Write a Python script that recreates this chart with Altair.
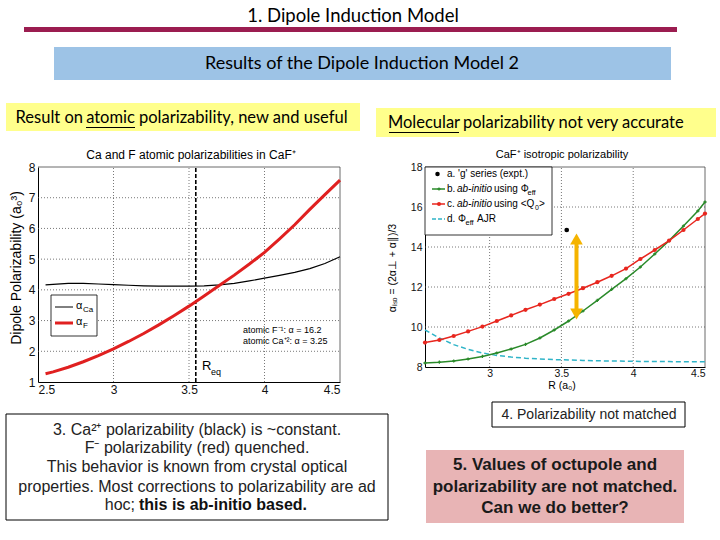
import altair as alt
import pandas as pd

# ---------------- data ----------------
R_LEFT = [2.55, 2.6, 2.7, 2.8, 2.9, 3.0, 3.1, 3.2, 3.3, 3.4, 3.5, 3.6, 3.7, 3.8, 3.9, 4.0, 4.1, 4.2, 4.3, 4.4, 4.5]
ALPHA_CA = [4.16, 4.18, 4.21, 4.21, 4.19, 4.17, 4.15, 4.13, 4.12, 4.12, 4.12, 4.13, 4.16, 4.21, 4.29, 4.38, 4.47, 4.57, 4.69, 4.86, 5.08]
ALPHA_F = [1.27, 1.33, 1.48, 1.66, 1.86, 2.08, 2.32, 2.58, 2.86, 3.16, 3.47, 3.8, 4.14, 4.48, 4.84, 5.22, 5.66, 6.12, 6.62, 7.1, 7.57]

R_RIGHT = [2.55, 2.65, 2.75, 2.85, 2.95, 3.05, 3.15, 3.25, 3.35, 3.45, 3.55, 3.65, 3.75, 3.85, 3.95, 4.05, 4.15, 4.25, 4.35, 4.45, 4.5]
ISO_AB_PHI = [8.2, 8.24, 8.3, 8.4, 8.53, 8.7, 8.9, 9.13, 9.45, 9.85, 10.3, 10.8, 11.33, 11.88, 12.42, 13.0, 13.65, 14.32, 15.05, 15.8, 16.25]
ISO_AB_Q0 = [9.22, 9.35, 9.55, 9.78, 10.02, 10.3, 10.58, 10.86, 11.12, 11.4, 11.66, 11.94, 12.24, 12.56, 12.92, 13.4, 13.85, 14.32, 14.85, 15.4, 15.67]
ISO_PHI_AJR = [9.85, 9.45, 9.12, 8.88, 8.7, 8.58, 8.5, 8.44, 8.4, 8.37, 8.35, 8.33, 8.31, 8.3, 8.29, 8.28, 8.27, 8.27, 8.26, 8.26, 8.26]
EXPT_R = [3.537]
EXPT_ISO = [14.85]

L_XTICKS = [2.5, 3, 3.5, 4, 4.5]
L_YTICKS = [1, 2, 3, 4, 5, 6, 7, 8]
L_XGRID = [3, 3.5, 4]
L_YGRID = [2, 3, 4, 5, 6, 7]
R_EQ = [3.545]

R_XTICKS = [3, 3.5, 4, 4.5]
R_YTICKS = [8, 10, 12, 14, 16, 18]
R_XGRID = [3, 3.5, 4]
R_YGRID = [10, 12, 14, 16]
ARROW_R = [3.605]
ARROW_HEADS_UP = [14.4]
ARROW_HEADS_DOWN = [10.65]

# ---------------- scales ----------------
LX = alt.Scale(domain=[2.5, 4.5], range=[38, 340], nice=False, zero=False)
LY = alt.Scale(domain=[1, 8], range=[382, 167], nice=False, zero=False)
RX = alt.Scale(domain=[2.55, 4.5], range=[425, 705], nice=False, zero=False)
RY = alt.Scale(domain=[8, 18], range=[367, 167], nice=False, zero=False)

ONE = pd.DataFrame({"k": [0]})
SANS = "Liberation Sans"
SLIDE = "Lato"


def txt(s, x, y, size, align="left", font=SANS, weight="normal", style="normal",
        color="black", angle=0):
    return alt.Chart(ONE).mark_text(
        text=s, align=align, baseline="middle", font=font, fontSize=size,
        fontWeight=weight, fontStyle=style, color=color, angle=angle
    ).encode(x=alt.value(x), y=alt.value(y))


def rect(x0, x1, y0, y1, fill="white", stroke=None, sw=1):
    kw = dict(fill=fill)
    if stroke:
        kw.update(stroke=stroke, strokeWidth=sw)
    return alt.Chart(ONE).mark_rect(**kw).encode(
        x=alt.value(x0), x2=alt.value(x1), y=alt.value(y0), y2=alt.value(y1))


def hline(x0, x1, y, color="black", sw=1, dash=None):
    kw = dict(color=color, strokeWidth=sw)
    if dash:
        kw["strokeDash"] = dash
    return alt.Chart(ONE).mark_rule(**kw).encode(
        x=alt.value(x0), x2=alt.value(x1), y=alt.value(y))


def pt(x, y, shape, color, size):
    return alt.Chart(ONE).mark_point(shape=shape, filled=True, color=color, size=size, opacity=1).encode(
        x=alt.value(x), y=alt.value(y))


layers = []

# ---------------- slide decorations ----------------
layers += [
    txt("1. Dipole Induction Model", 353, 16, 18.5, align="center", font=SLIDE),
    rect(24, 677, 27, 32, fill="#9b1d50"),
    rect(54, 671, 47, 80, fill="#9dc3e6"),
    txt("Results of the Dipole Induction Model 2", 362, 64, 18, align="center", font=SLIDE),
    rect(6, 360, 103, 131, fill="#ffff8c"),
    txt("Result on", 83, 118, 16.5, align="right", font=SLIDE),
    txt("atomic", 110.5, 118, 16.5, align="center", font=SLIDE),
    hline(86, 135, 127.5, sw=1.2),
    txt("polarizability, new and useful", 139, 118, 16.5, font=SLIDE),
    rect(376, 716, 108, 137, fill="#ffff8c"),
    txt("Molecular", 424, 123, 16.5, align="center", font=SLIDE),
    hline(389, 459, 132.5, sw=1.2),
    txt("polarizability not very accurate", 463, 123, 16.5, font=SLIDE),
]

# ---------------- left chart ----------------
l_grid_x = alt.Chart(pd.DataFrame({"R": L_XGRID, "lo": [1] * 3, "hi": [8] * 3})).mark_rule(
    color="#555", strokeWidth=0.8, strokeDash=[1, 2]).encode(
    x=alt.X("R:Q", scale=LX, axis=None), y=alt.Y("lo:Q", scale=LY, axis=None), y2="hi:Q")
l_grid_y = alt.Chart(pd.DataFrame({"v": L_YGRID, "lo": [2.5] * 6, "hi": [4.5] * 6})).mark_rule(
    color="#555", strokeWidth=0.8, strokeDash=[1, 2]).encode(
    y=alt.Y("v:Q", scale=LY, axis=None), x=alt.X("lo:Q", scale=LX, axis=None), x2="hi:Q")
l_frame_top = alt.Chart(pd.DataFrame({"v": [8], "lo": [2.5], "hi": [4.5]})).mark_rule(
    color="#444", strokeWidth=0.8).encode(
    y=alt.Y("v:Q", scale=LY, axis=None), x=alt.X("lo:Q", scale=LX, axis=None), x2="hi:Q")
l_frame_right = alt.Chart(pd.DataFrame({"R": [4.5], "lo": [1], "hi": [8]})).mark_rule(
    color="#444", strokeWidth=0.8).encode(
    x=alt.X("R:Q", scale=LX, axis=None), y=alt.Y("lo:Q", scale=LY, axis=None), y2="hi:Q")
l_req = alt.Chart(pd.DataFrame({"R": R_EQ, "lo": [1], "hi": [8]})).mark_rule(
    color="black", strokeWidth=1.6, strokeDash=[4, 2]).encode(
    x=alt.X("R:Q", scale=LX, axis=None), y=alt.Y("lo:Q", scale=LY, axis=None), y2="hi:Q")

left_df = pd.DataFrame({"R": R_LEFT, "ca": ALPHA_CA, "f": ALPHA_F})
l_axis_x = alt.Axis(orient="bottom", offset=382 - 540, values=L_XTICKS, format="~g", ticks=False,
                    grid=False, domainColor="black", labelFont=SANS, labelFontSize=12,
                    labelColor="#111", labelPadding=2, title=None)
l_axis_y = alt.Axis(orient="left", offset=-38, values=L_YTICKS, format="d", ticks=False,
                    grid=False, domainColor="black", labelFont=SANS, labelFontSize=12,
                    labelColor="#111", labelPadding=3, title=None)
l_ca = alt.Chart(left_df).mark_line(color="black", strokeWidth=1.2).encode(
    x=alt.X("R:Q", scale=LX, axis=l_axis_x), y=alt.Y("ca:Q", scale=LY, axis=l_axis_y))
l_f = alt.Chart(left_df).mark_line(color="#e02020", strokeWidth=3).encode(
    x=alt.X("R:Q", scale=LX, axis=None), y=alt.Y("f:Q", scale=LY, axis=None))

layers += [l_grid_x, l_grid_y, l_frame_top, l_frame_right, l_req, l_ca, l_f]
layers += [
    txt("Ca and F atomic polarizabilities in CaF\u207a", 191, 155, 12, align="center"),
    txt("Dipole Polarizability (a\u2080\u00b3)", 17, 268, 14, align="center", angle=270),
    rect(51, 97, 295, 336, fill="white", stroke="black", sw=0.8),
    hline(55, 73, 307, color="black", sw=1),
    hline(55, 73, 323, color="#e02020", sw=3),
    txt("\u03b1", 76, 306, 11),
    txt("Ca", 83, 310, 8),
    txt("\u03b1", 76, 322, 11),
    txt("F", 83, 326, 8),
    txt("atomic F\u207b\u00b9:    \u03b1 = 16.2", 243, 330, 9),
    txt("atomic Ca\u207a\u00b2: \u03b1 = 3.25", 243, 341, 9),
    txt("R", 202, 366, 13),
    txt("eq", 211, 372, 9),
]

# ---------------- right chart ----------------
r_grid_x = alt.Chart(pd.DataFrame({"R": R_XGRID, "lo": [8] * 3, "hi": [18] * 3})).mark_rule(
    color="#555", strokeWidth=0.8, strokeDash=[1, 2]).encode(
    x=alt.X("R:Q", scale=RX, axis=None), y=alt.Y("lo:Q", scale=RY, axis=None), y2="hi:Q")
r_grid_y = alt.Chart(pd.DataFrame({"v": R_YGRID, "lo": [2.55] * 4, "hi": [4.5] * 4})).mark_rule(
    color="#555", strokeWidth=0.8, strokeDash=[1, 2]).encode(
    y=alt.Y("v:Q", scale=RY, axis=None), x=alt.X("lo:Q", scale=RX, axis=None), x2="hi:Q")
r_frame_top = alt.Chart(pd.DataFrame({"v": [18], "lo": [2.55], "hi": [4.5]})).mark_rule(
    color="#444", strokeWidth=0.8).encode(
    y=alt.Y("v:Q", scale=RY, axis=None), x=alt.X("lo:Q", scale=RX, axis=None), x2="hi:Q")
r_frame_right = alt.Chart(pd.DataFrame({"R": [4.5], "lo": [8], "hi": [18]})).mark_rule(
    color="#444", strokeWidth=0.8).encode(
    x=alt.X("R:Q", scale=RX, axis=None), y=alt.Y("lo:Q", scale=RY, axis=None), y2="hi:Q")

right_df = pd.DataFrame({"R": R_RIGHT, "b": ISO_AB_PHI, "c": ISO_AB_Q0, "d": ISO_PHI_AJR})
r_axis_x = alt.Axis(orient="bottom", offset=367 - 540, values=R_XTICKS, format="~g", ticks=False,
                    grid=False, domainColor="black", labelFont=SANS, labelFontSize=10.5,
                    labelColor="#111", labelPadding=1, title=None)
r_axis_y = alt.Axis(orient="left", offset=-425, values=R_YTICKS, format="d", ticks=False,
                    grid=False, domainColor="black", labelFont=SANS, labelFontSize=10.5,
                    labelColor="#111", labelPadding=3, title=None)
GREEN = "#2a8a2a"
RED = "#e8261e"
CYAN = "#2fb4c8"
GOLD = "#f5b400"
r_b = alt.Chart(right_df).mark_line(color=GREEN, strokeWidth=1.5).encode(
    x=alt.X("R:Q", scale=RX, axis=r_axis_x), y=alt.Y("b:Q", scale=RY, axis=r_axis_y))
r_b_pts = alt.Chart(right_df).mark_point(shape="cross", filled=True, color=GREEN, size=10, opacity=1).encode(
    x=alt.X("R:Q", scale=RX, axis=None), y=alt.Y("b:Q", scale=RY, axis=None))
r_c = alt.Chart(right_df).mark_line(color=RED, strokeWidth=1.5).encode(
    x=alt.X("R:Q", scale=RX, axis=None), y=alt.Y("c:Q", scale=RY, axis=None))
r_c_pts = alt.Chart(right_df).mark_point(shape="circle", filled=True, color=RED, size=18, opacity=1).encode(
    x=alt.X("R:Q", scale=RX, axis=None), y=alt.Y("c:Q", scale=RY, axis=None))
r_d = alt.Chart(right_df).mark_line(color=CYAN, strokeWidth=1.5, strokeDash=[5, 3]).encode(
    x=alt.X("R:Q", scale=RX, axis=None), y=alt.Y("d:Q", scale=RY, axis=None))
r_a = alt.Chart(pd.DataFrame({"R": EXPT_R, "v": EXPT_ISO})).mark_point(
    shape="circle", filled=True, color="black", size=22, opacity=1).encode(
    x=alt.X("R:Q", scale=RX, axis=None), y=alt.Y("v:Q", scale=RY, axis=None))

arrow_shaft = alt.Chart(pd.DataFrame({"R": ARROW_R, "lo": ARROW_HEADS_DOWN, "hi": ARROW_HEADS_UP})).mark_rule(
    color=GOLD, strokeWidth=4).encode(
    x=alt.X("R:Q", scale=RX, axis=None), y=alt.Y("lo:Q", scale=RY, axis=None), y2="hi:Q")
arrow_up = alt.Chart(pd.DataFrame({"R": ARROW_R, "v": ARROW_HEADS_UP})).mark_point(
    shape="triangle-up", filled=True, color=GOLD, size=160, opacity=1).encode(
    x=alt.X("R:Q", scale=RX, axis=None), y=alt.Y("v:Q", scale=RY, axis=None))
arrow_down = alt.Chart(pd.DataFrame({"R": ARROW_R, "v": ARROW_HEADS_DOWN})).mark_point(
    shape="triangle-down", filled=True, color=GOLD, size=160, opacity=1).encode(
    x=alt.X("R:Q", scale=RX, axis=None), y=alt.Y("v:Q", scale=RY, axis=None))

layers += [r_grid_x, r_grid_y, r_frame_top, r_frame_right, r_d, r_b, r_b_pts, r_c, r_c_pts, r_a,
           arrow_shaft, arrow_up, arrow_down]
layers += [
    txt("CaF\u207a isotropic polarizability", 562, 155, 11, align="center"),
    txt("R (a\u2080)", 562, 386, 10.5, align="center"),
    txt("\u03b1\u1d62\u209b\u2092 = (2\u03b1\u22a5 + \u03b1\u2225)/3", 393, 268, 10.5, align="center", angle=270),
    rect(425, 552, 167, 235, fill="white", stroke="black", sw=0.8),
    pt(437.5, 174, "circle", "black", 20),
    txt("a. 'g' series (expt.)", 447, 174, 10),
    hline(432, 445, 189, color=GREEN, sw=1.5),
    pt(439, 189, "cross", GREEN, 10),
    txt("b.", 447, 189, 10),
    txt("ab-initio", 457, 189, 10, style="italic"),
    txt("using \u03a6", 494, 189, 10),
    txt("eff", 527.5, 193, 7.5),
    hline(432, 445, 204, color=RED, sw=1.5),
    pt(439, 204, "circle", RED, 16),
    txt("c.", 447, 204, 10),
    txt("ab-initio", 457, 204, 10, style="italic"),
    txt("using <Q", 494, 204, 10),
    txt("0", 535, 207.5, 7),
    txt(">", 539, 204, 10),
    hline(432, 445, 219, color=CYAN, sw=1.5, dash=[4, 2]),
    txt("d. \u03a6", 447, 219, 10),
    txt("eff", 465.5, 222.5, 7.5),
    txt("AJR", 477, 219, 10),
]

# ---------------- bottom text boxes ----------------
layers += [
    rect(6, 388, 414, 520, fill="white", stroke="black", sw=1),
    txt("3. Ca\u00b2\u207a polarizability (black) is ~constant.", 197, 430, 16, align="center", color="#222"),
    txt("F\u207b polarizability (red) quenched.", 197, 448, 16, align="center", color="#222"),
    txt("This behavior is known from crystal optical", 197, 467, 16, align="center", color="#222"),
    txt("properties. Most corrections to polarizability are ad", 197, 487, 16, align="center", color="#222"),
    txt("hoc;", 135, 505, 16, align="right", color="#222"),
    txt("this is ab-initio based.", 139, 505, 16, weight="bold", color="#111"),
    rect(492, 685, 402, 427, fill="white", stroke="black", sw=1),
    txt("4. Polarizability not matched", 589, 414.5, 14, align="center", color="#222"),
    rect(426, 684, 450, 523, fill="#e8b4b5"),
    txt("5. Values of octupole and", 555, 465, 17, align="center", weight="bold", color="#1a1a1a"),
    txt("polarizability are not matched.", 555, 487, 17, align="center", weight="bold", color="#1a1a1a"),
    txt("Can we do better?", 555, 508, 17, align="center", weight="bold", color="#1a1a1a"),
]

chart = alt.layer(*layers).resolve_scale(x="independent", y="independent").properties(
    width=720, height=540, padding=0, background="white",
    autosize=alt.AutoSizeParams(type="none"),
).configure_view(stroke=None)

chart.save("out.html", embed_options={"renderer": "svg", "actions": False})
